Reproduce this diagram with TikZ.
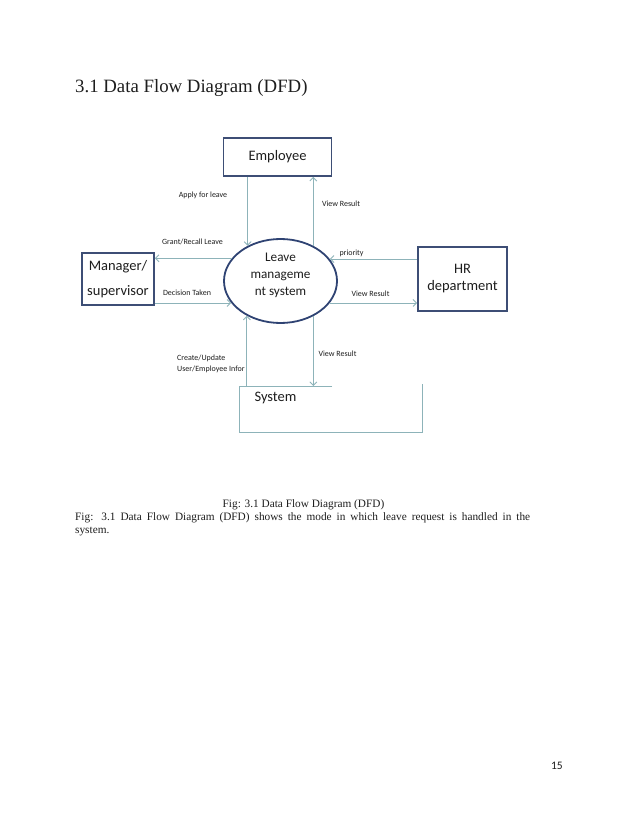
\documentclass[tikz,border=0pt]{standalone}
\usepackage{fontspec}
\setmainfont{Liberation Serif}
\newfontfamily\diagfont{Carlito}
\usetikzlibrary{shapes.geometric,arrows.meta}
\definecolor{boxc}{HTML}{3D4E75}
\definecolor{ellc}{HTML}{2F4373}
\definecolor{arrc}{HTML}{8DB3B9}
\definecolor{txt}{HTML}{1E1E1E}
\begin{document}
\begin{tikzpicture}[x=1pt,y=-1pt,
  box/.style={draw=boxc,line width=1.8pt,rectangle,inner sep=0pt,align=center,text=txt,
    font=\diagfont\fontsize{14.5}{17}\selectfont},
  flow/.style={draw=arrc,line width=0.9pt,-{Straight Barb[length=3.5pt,width=7pt]}},
  sysline/.style={draw=arrc,line width=0.9pt},
  lbl/.style={font=\diagfont\fontsize{8}{11}\selectfont,text=txt,inner sep=0pt},
  body/.style={inner sep=0pt,text=txt,font=\fontsize{11.3}{13}\selectfont},
]
\fill[white] (0,0) rectangle (638,826);
\useasboundingbox (0,0) rectangle (638,826);

% heading
\node[anchor=base west,inner sep=0pt,text=txt,font=\fontsize{18.8}{22}\selectfont] (title) at (75,93) {3.1 Data Flow Diagram (DFD)};

% entities
\node[box,minimum width=108pt,minimum height=38pt] (emp) at (277.5,157) {Employee};
\node[box,minimum width=72pt,minimum height=52pt,font=\diagfont\fontsize{14.5}{25}\selectfont] (mgr) at (118,279) {Manager/\\supervisor};
\node[box,minimum width=89pt,minimum height=64pt] (hr) at (462.5,279) {HR\\department};
\node[ellipse,draw=ellc,line width=1.8pt,minimum width=113pt,minimum height=84pt,inner sep=0pt] (ell) at (280.5,281) {};
\node[align=center,inner sep=0pt,text=txt,font=\diagfont\fontsize{13.2}{17}\selectfont] (elltxt) at (280.5,275) {Leave\\manageme\\nt system};

% system store (open box)
\coordinate (stt) at (332,386);
\coordinate (stl) at (239,386);
\coordinate (sbl) at (239,432);
\coordinate (sbr) at (422,432);
\coordinate (str) at (422,384);
\draw[sysline] (stt) -- (stl) -- (sbl) -- (sbr) -- (str);
\node[inner sep=0pt,text=txt,font=\diagfont\fontsize{14.5}{18}\selectfont] (sys) at (275.5,398) {System};

% flows
\draw[flow] (ell.133.4 |- emp.south) -- (ell.133.4);
\draw[flow] (ell.47.9) -- (ell.47.9 |- emp.south);
\draw[flow] (ell.155.4) -- (ell.155.4 -| mgr.east);
\draw[flow] (ell.204.6 -| mgr.east) -- (ell.204.6);
\draw[flow] (ell.24.6 -| hr.west) -- (ell.24.6);
\draw[flow] (ell.-24.6) -- (ell.-24.6 -| hr.west);
\draw[flow] (ell.226.6 |- stl) -- (ell.226.6);
\draw[flow] (ell.-47.9) -- (ell.-47.9 |- stl);

% flow labels
\node[lbl] (l1) at (203,195) {Apply for leave};
\node[lbl] (l2) at (341,204) {View Result};
\node[lbl] (l3) at (192.5,242) {Grant/Recall Leave};
\node[lbl] (l4) at (187,293) {Decision Taken};
\node[lbl] (l5) at (351.5,253) {priority};
\node[lbl] (l6) at (370.5,294) {View Result};
\node[lbl,align=left,anchor=west] (l7) at (177,363.5) {Create/Update\\User/Employee Infor};
\node[lbl] (l8) at (337.5,354) {View Result};

% caption and text
\node[body,anchor=base] (cap) at (303.5,507) {Fig: 3.1 Data Flow Diagram (DFD)};
\node[body,anchor=base west] (desc) at (75,520)
  {\makebox[455pt][s]{Fig: 3.1 Data Flow Diagram (DFD) shows the mode in which leave request is handled in the}};
\node[body,anchor=base west] (desc2) at (75,533) {system.};

% page number
\node[anchor=base east,inner sep=0pt,text=txt,font=\diagfont\fontsize{11.5}{13}\selectfont] (pg) at (563,769) {15};
\end{tikzpicture}
\end{document}
